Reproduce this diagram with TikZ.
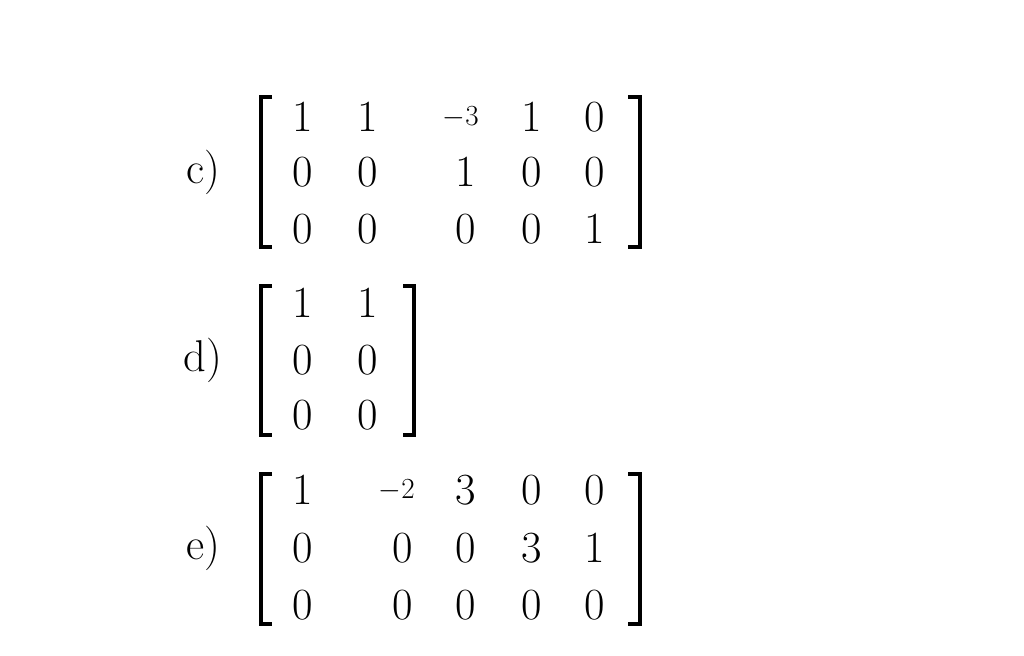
\documentclass[tikz,border=0pt]{standalone}
\begin{document}
\begin{tikzpicture}[x=0.03cm,y=-0.03cm,
  e/.style={inner sep=0pt,font=\fontsize{38}{44}\selectfont},
  br/.style={line width=2.6pt}]
\useasboundingbox (0,0) rectangle (1024,656);
% c)
\node[e] (lc) at (203,172) {c)};
\draw[br] (272,97) -- (261,97) -- (261,247) -- (272,247);
\draw[br] (628,97) -- (640,97) -- (640,247) -- (628,247);
\node[e] (c11) at (303,117) {1}; \node[e] (c12) at (368,117) {1};
\node[e,anchor=east] (c13) at (479,117) {$-3$};
\node[e] (c14) at (532,117) {1}; \node[e] (c15) at (595,117) {0};
\node[e] (c21) at (303,172) {0}; \node[e] (c22) at (368,172) {0};
\node[e] (c23) at (466,172) {1};
\node[e] (c24) at (532,172) {0}; \node[e] (c25) at (595,172) {0};
\node[e] (c31) at (303,229) {0}; \node[e] (c32) at (368,229) {0};
\node[e] (c33) at (466,229) {0};
\node[e] (c34) at (532,229) {0}; \node[e] (c35) at (595,229) {1};
% d)
\node[e] (ld) at (203,360) {d)};
\draw[br] (272,286) -- (261,286) -- (261,435) -- (272,435);
\draw[br] (403,286) -- (414,286) -- (414,435) -- (403,435);
\node[e] (d11) at (303,303) {1}; \node[e] (d12) at (368,303) {1};
\node[e] (d21) at (303,360) {0}; \node[e] (d22) at (368,360) {0};
\node[e] (d31) at (303,415) {0}; \node[e] (d32) at (368,415) {0};
% e)
\node[e] (le) at (203,548) {e)};
\draw[br] (272,474) -- (261,474) -- (261,624) -- (272,624);
\draw[br] (628,474) -- (640,474) -- (640,624) -- (628,624);
\node[e] (e11) at (303,490) {1};
\node[e,anchor=east] (e12) at (415,490) {$-2$};
\node[e] (e13) at (466,490) {3}; \node[e] (e14) at (532,490) {0}; \node[e] (e15) at (595,490) {0};
\node[e] (e21) at (303,548) {0}; \node[e] (e22) at (403,548) {0};
\node[e] (e23) at (466,548) {0}; \node[e] (e24) at (532,548) {3}; \node[e] (e25) at (595,548) {1};
\node[e] (e31) at (303,605) {0}; \node[e] (e32) at (403,605) {0};
\node[e] (e33) at (466,605) {0}; \node[e] (e34) at (532,605) {0}; \node[e] (e35) at (595,605) {0};
\end{tikzpicture}
\end{document}
